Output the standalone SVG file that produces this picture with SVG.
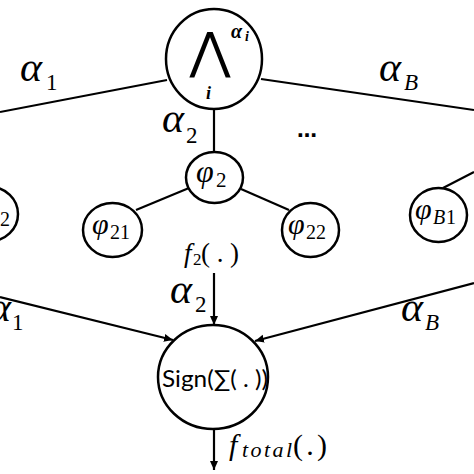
<svg xmlns="http://www.w3.org/2000/svg" width="474" height="474" viewBox="0 0 474 474">
<defs>
<marker id="ah" markerWidth="10" markerHeight="10" refX="9" refY="5" orient="auto" markerUnits="userSpaceOnUse">
<path d="M0,1 L9,5 L0,9 Z" fill="#000"/>
</marker>
</defs>
<style>
.n{fill:#fff;stroke:#000;stroke-width:2.5}
.c{stroke:#000;stroke-width:2.2;fill:none}
.m{font-family:"Liberation Serif","DejaVu Serif",serif;font-style:italic;fill:#000}
.u{font-family:"Liberation Serif","DejaVu Serif",serif;font-style:normal;fill:#000}
.s{font-family:"Lato","Open Sans",sans-serif;fill:#000}
</style>
<rect width="474" height="474" fill="#fff"/>
<g id="connectors">
<line class="c" x1="167" y1="80" x2="0" y2="112"/>
<line class="c" x1="261" y1="79" x2="474" y2="110"/>
<line class="c" x1="214" y1="109" x2="214" y2="152"/>
<line class="c" x1="189" y1="188" x2="136" y2="210"/>
<line class="c" x1="241" y1="189" x2="289" y2="210"/>
<line class="c" x1="443" y1="188" x2="474" y2="172"/>
<line class="c" x1="214" y1="273" x2="214" y2="325" marker-end="url(#ah)"/>
<line class="c" x1="0" y1="297" x2="173" y2="340" marker-end="url(#ah)"/>
<line class="c" x1="474" y1="283" x2="255" y2="341" marker-end="url(#ah)"/>
<line class="c" x1="214" y1="429" x2="214" y2="470" marker-end="url(#ah)"/>
</g>
<g id="labels">
<text class="m" x="20" y="81" font-size="42">α</text><text class="u" x="46" y="90" font-size="23">1</text>
<text class="m" x="379" y="81" font-size="42">α</text><text class="m" x="404" y="90" font-size="23">B</text>
<text class="m" x="162" y="132" font-size="42">α</text><text class="u" x="186" y="143" font-size="23">2</text>
<text x="297" y="137" font-family="DejaVu Sans,sans-serif" font-weight="bold" font-size="20">…</text>
<text class="m" x="184" y="262" font-size="27">f</text><text class="u" x="193" y="265" font-size="17">2</text><text class="u" x="201" y="262" font-size="27" textLength="38" lengthAdjust="spacing">(.)</text>
<text class="m" x="170" y="303" font-size="42">α</text><text class="u" x="195" y="312" font-size="23">2</text>
<text class="m" x="-11" y="321" font-size="42">α</text><text class="u" x="12" y="330" font-size="23">1</text>
<text class="m" x="401" y="321" font-size="42">α</text><text class="m" x="425" y="330" font-size="23">B</text>
<text class="m" x="229" y="455" font-size="30">f</text><text class="m" x="242" y="457" font-size="22" textLength="50" lengthAdjust="spacing">total</text><text class="u" x="293" y="455" font-size="30" textLength="34" lengthAdjust="spacing">(.)</text>
</g>
<g id="node-top">
<ellipse class="n" cx="214" cy="59" rx="48" ry="50"/>
<text x="210" y="68" font-family="DejaVu Sans,sans-serif" font-size="50" text-anchor="middle">⋀</text>
<text class="m" x="231" y="38" font-size="20" font-weight="bold">α</text><text class="m" x="245" y="41" font-size="14" font-weight="bold">i</text>
<text class="m" x="206" y="99" font-size="18" font-weight="bold">i</text>
</g>
<g id="node-phi2">
<ellipse class="n" cx="214.5" cy="177.5" rx="28.5" ry="25.5"/>
<text class="m" x="196" y="182" font-size="32">φ</text><text class="u" x="216" y="187" font-size="21">2</text>
</g>
<g id="node-phi21">
<ellipse class="n" cx="112.5" cy="230" rx="29.5" ry="27"/>
<text class="m" x="92" y="234" font-size="30">φ</text><text class="u" x="110" y="239" font-size="20">21</text>
</g>
<g id="node-phi22">
<ellipse class="n" cx="310.5" cy="230" rx="28.5" ry="27"/>
<text class="m" x="288" y="234" font-size="30">φ</text><text class="u" x="306" y="239" font-size="20">22</text>
</g>
<g id="node-phiB1">
<ellipse class="n" cx="438.5" cy="215" rx="28.5" ry="27"/>
<text class="m" x="415" y="219" font-size="30">φ</text><text class="m" x="433" y="224" font-size="20">B</text><text class="u" x="446" y="224" font-size="20">1</text>
</g>
<g id="node-phi12">
<ellipse class="n" cx="-10" cy="214" rx="28" ry="27"/>
<text class="u" x="0" y="226" font-size="20">2</text>
</g>
<g id="node-sign">
<ellipse class="n" cx="213" cy="377" rx="55" ry="52"/>
<text class="s" x="162" y="387" font-size="23" textLength="106" lengthAdjust="spacingAndGlyphs">Sign(∑( . ))</text>
</g>
</svg>
